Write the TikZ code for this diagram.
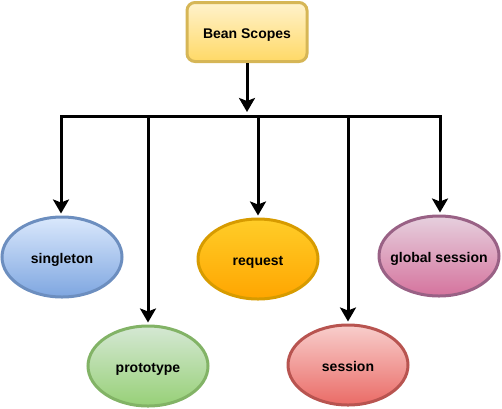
\documentclass[tikz,border=0pt]{standalone}
\usepackage{fontspec}
\setmainfont{Liberation Sans}
\usetikzlibrary{arrows.meta,shapes.geometric}
\definecolor{ystroke}{HTML}{D6B656}\definecolor{ytop}{HTML}{FFF2CC}\definecolor{ybot}{HTML}{FFD966}
\definecolor{bstroke}{HTML}{6C8EBF}\definecolor{btop}{HTML}{DAE8FC}\definecolor{bbot}{HTML}{7EA6E0}
\definecolor{gstroke}{HTML}{82B366}\definecolor{gtop}{HTML}{D5E8D4}\definecolor{gbot}{HTML}{97D077}
\definecolor{ostroke}{HTML}{D79B00}\definecolor{otop}{HTML}{FFCD28}\definecolor{obot}{HTML}{FFA500}
\definecolor{rstroke}{HTML}{B85450}\definecolor{rtop}{HTML}{F8CECC}\definecolor{rbot}{HTML}{EA6B66}
\definecolor{pstroke}{HTML}{996185}\definecolor{ptop}{HTML}{E6D0DE}\definecolor{pbot}{HTML}{D5739D}
\tikzset{
  lbl/.style={font=\fontsize{14}{16}\selectfont\bfseries, text=black, text height=12pt, text depth=0pt},
  scopebox/.style={lbl, rectangle, rounded corners=8pt, line width=3pt, minimum width=120pt, minimum height=59pt},
  scopeell/.style={lbl, ellipse, line width=3pt, minimum width=120pt, minimum height=80pt, inner ysep=0pt, inner xsep=-8pt},
  conn/.style={line width=3pt, black},
  arr/.style={conn, -{Stealth[length=14pt,width=16pt,inset=3pt]}, shorten >=2pt},
}
\begin{document}
\begin{tikzpicture}[x=1pt,y=-1pt]
\useasboundingbox (0,0) rectangle (502,408);
\node[scopebox, draw=ystroke, top color=ytop, bottom color=ybot] (bean) at (247,32) {Bean Scopes};
\node[scopeell, draw=bstroke, top color=btop, bottom color=bbot] (singleton) at (62,257) {singleton};
\node[scopeell, draw=gstroke, top color=gtop, bottom color=gbot] (prototype) at (148,366) {prototype};
\node[scopeell, draw=ostroke, top color=otop, bottom color=obot] (request) at (258,259) {request};
\node[scopeell, draw=rstroke, top color=rtop, bottom color=rbot] (session) at (348,365) {session};
\node[scopeell, draw=pstroke, top color=ptop, bottom color=pbot] (global) at (439,256) {global session};
\coordinate (busL) at (60,116);
\coordinate (busR) at (441.5,116);
\coordinate (busTop) at (247,112);
\coordinate (j1) at (61,116);
\coordinate (j2) at (148,116);
\coordinate (j3) at (258,116);
\coordinate (j4) at (348,116);
\coordinate (j5) at (440,116);
\draw[arr, shorten >=0pt] (bean.south) -- (busTop);
\draw[conn] (busL) -- (busR);
\draw[arr] (j1) -- (j1 |- singleton.north);
\draw[arr] (j2) -- (j2 |- prototype.north);
\draw[arr] (j3) -- (j3 |- request.north);
\draw[arr] (j4) -- (j4 |- session.north);
\draw[arr] (j5) -- (j5 |- global.north);
\end{tikzpicture}
\end{document}
